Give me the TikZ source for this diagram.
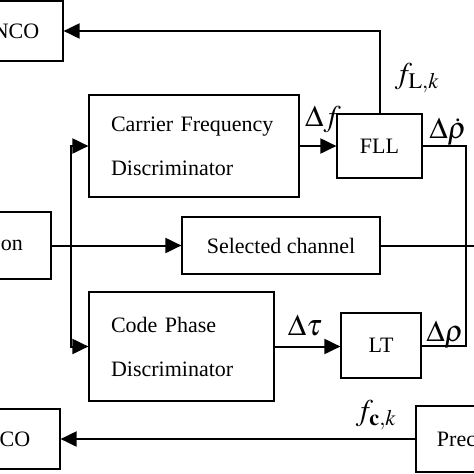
\documentclass[tikz,border=0pt]{standalone}
\usepackage{amsmath}
\usepackage{mathptmx}
\usepackage{fontspec}
\setmainfont{Liberation Serif}
\usetikzlibrary{arrows.meta}

\begin{document}
\begin{tikzpicture}[x=1pt,y=-1pt,
   blk/.style={draw,line width=1.2pt,inner sep=0pt,
      font=\fontsize{22}{44}\selectfont},
   txtblk/.style={blk,align=left,inner xsep=22pt},
   wire/.style={line width=2pt},
   arr/.style={wire,-{Triangle[length=16pt,width=15pt]}},
   lbl/.style={font=\fontsize{30}{34}\selectfont,inner sep=0pt}]
\useasboundingbox (0,0) rectangle (474,474);
\clip (0,0) rectangle (474,474);
% blocks
\node[blk,minimum width=94pt,minimum height=60pt] (ncoT) at (16,31) {NCO};
\node[blk,minimum width=78pt,minimum height=67pt] (corr) at (12,245.5) {on};
\node[txtblk,minimum width=210pt,minimum height=102pt,text width=166pt]
   (cfd) at (194,146) {Carrier Frequency\\Discriminator};
\node[blk,minimum width=198pt,minimum height=57pt] (sel) at (281,245.5) {Selected channel};
\node[txtblk,minimum width=185pt,minimum height=109pt,text width=141pt]
   (cpd) at (181.5,346.5) {Code Phase\\Discriminator};
\node[blk,minimum width=85pt,minimum height=64pt] (fll) at (379.5,146) {FLL};
\node[blk,minimum width=80pt,minimum height=65pt] (lt) at (381,345.5) {LT};
\node[blk,minimum width=81pt,minimum height=66pt] (pred) at (456.5,439) {Prec};
\node[blk,minimum width=90pt,minimum height=60pt] (ncoB) at (15,439) {CO};
% junctions
\coordinate (split) at (71,245.5);
\coordinate (rbus) at (466,0);
\coordinate (out) at (480,0);
% connectors
\draw[arr] (fll.north) |- (ncoT.east);
\draw[arr] (corr.east) -- (sel.west);
\draw[arr] (split) |- (cfd.west);
\draw[arr] (split) |- (cpd.west);
\draw[arr] (cfd.east) -- (fll.west);
\draw[arr] (cpd.east) -- (cpd.east -| lt.west);
\draw[wire] (fll.east) -- (fll.east -| rbus) |- (lt.east);
\draw[wire] (sel.east) -- (sel.east -| out);
\draw[arr] (pred.west) -- (ncoB.east);
% labels
\node[lbl] (df) at (323,119) {$\Delta f$};
\node[lbl] (drhod) at (448,132) {$\Delta\dot{\rho}$};
\node[lbl] (fL) at (417,78) {$f_{\mathrm{L},\boldsymbol{k}}$};
\node[lbl] (dtau) at (305,326) {$\Delta\tau$};
\node[lbl] (drho) at (445,335) {$\Delta\rho$};
\node[lbl] (fc) at (376,415) {$f_{\mathbf{c},\boldsymbol{k}}$};
\end{tikzpicture}
\end{document}
